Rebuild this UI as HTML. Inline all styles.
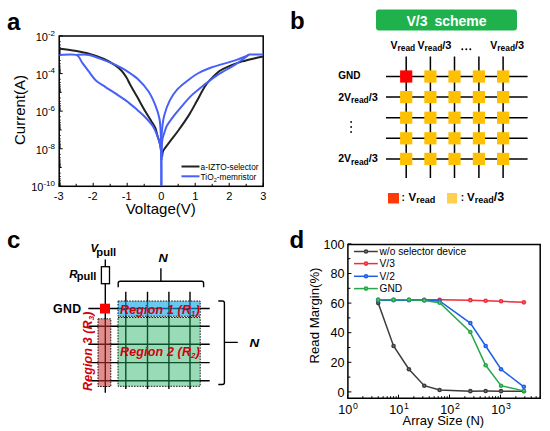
<!DOCTYPE html><html><head><meta charset="utf-8"><style>html,body{margin:0;padding:0;background:#fff;width:550px;height:431px;overflow:hidden}svg{display:block}text{font-family:"Liberation Sans",sans-serif}</style></head><body>
<svg width="550" height="431" viewBox="0 0 550 431">
<text x="7" y="29.6" font-size="24" font-weight="bold">a</text>
<path d="M59.2,186.3 h3.5 M59.2,167.51 h2.5 M59.2,173.17 h1.5 M59.2,176.48 h1.5 M59.2,178.82 h1.5 M59.2,180.64 h1.5 M59.2,182.13 h1.5 M59.2,183.39 h1.5 M59.2,184.48 h1.5 M59.2,185.44 h1.5 M59.2,148.73 h3.5 M59.2,154.38 h1.5 M59.2,157.69 h1.5 M59.2,160.04 h1.5 M59.2,161.86 h1.5 M59.2,163.34 h1.5 M59.2,164.6 h1.5 M59.2,165.69 h1.5 M59.2,166.65 h1.5 M59.2,129.94 h2.5 M59.2,135.59 h1.5 M59.2,138.9 h1.5 M59.2,141.25 h1.5 M59.2,143.07 h1.5 M59.2,144.56 h1.5 M59.2,145.81 h1.5 M59.2,146.9 h1.5 M59.2,147.87 h1.5 M59.2,111.15 h3.5 M59.2,116.81 h1.5 M59.2,120.11 h1.5 M59.2,122.46 h1.5 M59.2,124.28 h1.5 M59.2,125.77 h1.5 M59.2,127.03 h1.5 M59.2,128.12 h1.5 M59.2,129.08 h1.5 M59.2,92.36 h2.5 M59.2,98.02 h1.5 M59.2,101.33 h1.5 M59.2,103.67 h1.5 M59.2,105.49 h1.5 M59.2,106.98 h1.5 M59.2,108.24 h1.5 M59.2,109.33 h1.5 M59.2,110.29 h1.5 M59.2,73.58 h3.5 M59.2,79.23 h1.5 M59.2,82.54 h1.5 M59.2,84.89 h1.5 M59.2,86.71 h1.5 M59.2,88.19 h1.5 M59.2,89.45 h1.5 M59.2,90.54 h1.5 M59.2,91.5 h1.5 M59.2,54.79 h2.5 M59.2,60.44 h1.5 M59.2,63.75 h1.5 M59.2,66.1 h1.5 M59.2,67.92 h1.5 M59.2,69.41 h1.5 M59.2,70.66 h1.5 M59.2,71.75 h1.5 M59.2,72.72 h1.5 M59.2,36 h3.5 M59.2,41.66 h1.5 M59.2,44.96 h1.5 M59.2,47.31 h1.5 M59.2,49.13 h1.5 M59.2,50.62 h1.5 M59.2,51.88 h1.5 M59.2,52.97 h1.5 M59.2,53.93 h1.5 M59.2,186.3 v-3.5 M76.2,186.3 v-2.5 M93.2,186.3 v-3.5 M110.2,186.3 v-2.5 M127.2,186.3 v-3.5 M144.2,186.3 v-2.5 M161.2,186.3 v-3.5 M178.2,186.3 v-2.5 M195.2,186.3 v-3.5 M212.2,186.3 v-2.5 M229.2,186.3 v-3.5 M246.2,186.3 v-2.5 M263.2,186.3 v-3.5" stroke="#000" stroke-width="1" fill="none"/>
<rect x="59.2" y="36" width="204" height="150.3" fill="none" stroke="#000" stroke-width="1.5"/>
<text x="55" y="41" font-size="11" text-anchor="end">10<tspan font-size="8" dy="-5.1">-2</tspan></text>
<text x="55" y="78.58" font-size="11" text-anchor="end">10<tspan font-size="8" dy="-5.1">-4</tspan></text>
<text x="55" y="116.15" font-size="11" text-anchor="end">10<tspan font-size="8" dy="-5.1">-6</tspan></text>
<text x="55" y="153.73" font-size="11" text-anchor="end">10<tspan font-size="8" dy="-5.1">-8</tspan></text>
<text x="55" y="191.3" font-size="11" text-anchor="end">10<tspan font-size="8" dy="-5.1">-10</tspan></text>
<text x="58.7" y="199.6" font-size="11" text-anchor="middle">-3</text>
<text x="92.7" y="199.6" font-size="11" text-anchor="middle">-2</text>
<text x="126.7" y="199.6" font-size="11" text-anchor="middle">-1</text>
<text x="161.2" y="199.6" font-size="11" text-anchor="middle">0</text>
<text x="195.2" y="199.6" font-size="11" text-anchor="middle">1</text>
<text x="229.2" y="199.6" font-size="11" text-anchor="middle">2</text>
<text x="263.2" y="199.6" font-size="11" text-anchor="middle">3</text>
<text x="160.7" y="214" font-size="15" text-anchor="middle">Voltage(V)</text>
<text transform="translate(24.9,110) rotate(-90)" x="0" y="0" font-size="15" text-anchor="middle">Current(A)</text>
<path d="M59.4,48.5 C62,48.88 70.08,49.93 75,50.8 C79.92,51.67 84.07,52.35 88.9,53.7 C93.73,55.05 99.6,56.95 104,58.9 C108.4,60.85 112.33,63.38 115.3,65.4 C118.27,67.42 119.93,68.98 121.8,71 C123.67,73.02 125.13,75.3 126.5,77.5 C127.87,79.7 128.2,80.93 130,84.2 C131.8,87.47 134.73,92.53 137.3,97.1 C139.87,101.67 143.08,107.63 145.4,111.6 C147.72,115.57 149.55,118.2 151.2,120.9 C152.85,123.6 154.3,125.48 155.3,127.8 C156.3,130.12 156.42,132.08 157.2,134.8 C157.98,137.52 159.32,141.23 160,144.1 C160.68,146.97 160.93,150.02 161.3,152 C161.67,153.98 162.05,155.33 162.2,156 L162.2,156 C162.32,155.27 162.4,152.97 162.9,151.6 C163.4,150.23 163.88,149.67 165.2,147.8 C166.52,145.93 168.55,143.37 170.8,140.4 C173.05,137.43 175.68,134.22 178.7,130 C181.72,125.78 185.97,119.75 188.9,115.1 C191.83,110.45 193.98,106.28 196.3,102.1 C198.62,97.92 201.02,93.1 202.8,90 C204.58,86.9 205.55,85.42 207,83.5 C208.45,81.58 209.35,80.62 211.5,78.5 C213.65,76.38 216.95,72.87 219.9,70.8 C222.85,68.73 225.47,67.67 229.2,66.1 C232.93,64.53 238,62.72 242.3,61.4 C246.6,60.08 251.52,59.02 255,58.2 C258.48,57.38 261.83,56.78 263.2,56.5" stroke="#222" stroke-width="2" fill="none" stroke-linejoin="round"/>
<path d="M59.4,55 C62.2,54.98 72.43,53.67 76.2,54.9 C79.97,56.13 79.88,59.6 82,62.4 C84.12,65.2 86.58,68.68 88.9,71.7 C91.22,74.72 93.18,77.98 95.9,80.5 C98.62,83.02 102.02,84.68 105.2,86.8 C108.38,88.92 111.52,90.9 115,93.2 C118.48,95.5 122.38,97.82 126.1,100.6 C129.82,103.38 134.27,107.3 137.3,109.9 C140.33,112.5 141.78,113.6 144.3,116.2 C146.82,118.8 150.28,122.4 152.4,125.5 C154.52,128.6 155.75,131.7 157,134.8 C158.25,137.9 159.22,141.23 159.9,144.1 C160.58,146.97 160.87,148.52 161.1,152 C161.33,155.48 161.27,159.33 161.3,165 C161.33,170.67 161.3,182.5 161.3,186" stroke="#4660f8" stroke-width="2" fill="none" stroke-linejoin="round"/>
<path d="M76.2,54.9 C78.32,54.9 84.27,54.03 88.9,54.9 C93.53,55.77 99.55,58.43 104,60.1 C108.45,61.77 112.02,63.22 115.6,64.9 C119.18,66.58 121.85,67.88 125.5,70.2 C129.15,72.52 133.68,75.28 137.5,78.8 C141.32,82.32 145.43,86.9 148.4,91.3 C151.37,95.7 153.45,100.58 155.3,105.2 C157.15,109.82 158.58,114.2 159.5,119 C160.42,123.8 160.5,128.83 160.8,134 C161.1,139.17 161.18,141.33 161.3,150 C161.42,158.67 161.47,180 161.5,186" stroke="#4660f8" stroke-width="2" fill="none" stroke-linejoin="round"/>
<path d="M161.4,160 C161.42,157.5 161.4,150 161.5,145 C161.6,140 161.53,134.95 162,130 C162.47,125.05 163,120.23 164.3,115.3 C165.6,110.37 167.63,104.73 169.8,100.4 C171.97,96.07 174.2,92.7 177.3,89.3 C180.4,85.9 185,82.63 188.4,80 C191.8,77.37 194.02,75.55 197.7,73.5 C201.38,71.45 206.25,69.3 210.5,67.7 C214.75,66.1 218.97,65.17 223.2,63.9 C227.43,62.63 232.1,61.37 235.9,60.1 C239.7,58.83 243.73,57.22 246,56.3 C248.27,55.38 246.63,54.88 249.5,54.6 C252.37,54.32 260.92,54.6 263.2,54.6" stroke="#4660f8" stroke-width="2" fill="none" stroke-linejoin="round"/>
<path d="M161.4,160 C161.42,158.42 161.33,153.93 161.5,150.5 C161.67,147.07 161.93,142.33 162.4,139.4 C162.87,136.47 163.53,135.22 164.3,132.9 C165.07,130.58 165.45,128.28 167,125.5 C168.55,122.72 170.97,119.6 173.6,116.2 C176.23,112.8 179.72,108.65 182.8,105.1 C185.88,101.55 188.7,98.15 192.1,94.9 C195.5,91.65 199.23,88.73 203.2,85.6 C207.17,82.47 211.97,78.78 215.9,76.1 C219.83,73.42 223.17,71.68 226.8,69.5 C230.43,67.32 234,65.45 237.7,63 C241.4,60.55 247.12,56.17 249,54.8" stroke="#4660f8" stroke-width="2" fill="none" stroke-linejoin="round"/>
<path d="M181.5,166.5 H199.5" stroke="#222" stroke-width="2"/>
<path d="M181.5,176.3 H199.5" stroke="#4660f8" stroke-width="2"/>
<text x="200.6" y="169.7" font-size="8.3">a-IZTO-selector</text>
<text x="200.6" y="179.5" font-size="8.3">TiO<tspan font-size="5.5" dy="2">2</tspan><tspan dy="-2">-memristor</tspan></text>
<text x="290" y="29.2" font-size="24" font-weight="bold">b</text>
<rect x="376" y="9.6" width="141" height="21" rx="3" fill="#1fb24c"/>
<text x="406.5" y="25.8" font-size="14" font-weight="bold" fill="#fff" word-spacing="3">V/3 scheme</text>
<path d="M406.2,56.5 V177.9 M430.4,56.5 V177.9 M454.5,56.5 V177.9 M478.9,56.5 V177.9 M503.1,56.5 V177.9 M386,76.5 H527.6 M386,97.1 H527.6 M386,117.7 H527.6 M386,138.3 H527.6 M386,158.9 H527.6" stroke="#000" stroke-width="1.5" fill="none"/>
<rect x="400.1" y="70.4" width="12.2" height="12.2" fill="#ff0000"/>
<rect x="424.3" y="70.4" width="12.2" height="12.2" fill="#ffc000"/>
<rect x="448.4" y="70.4" width="12.2" height="12.2" fill="#ffc000"/>
<rect x="472.8" y="70.4" width="12.2" height="12.2" fill="#ffc000"/>
<rect x="497" y="70.4" width="12.2" height="12.2" fill="#ffc000"/>
<rect x="400.1" y="91" width="12.2" height="12.2" fill="#ffc000"/>
<rect x="424.3" y="91" width="12.2" height="12.2" fill="#ffc000"/>
<rect x="448.4" y="91" width="12.2" height="12.2" fill="#ffc000"/>
<rect x="472.8" y="91" width="12.2" height="12.2" fill="#ffc000"/>
<rect x="497" y="91" width="12.2" height="12.2" fill="#ffc000"/>
<rect x="400.1" y="111.6" width="12.2" height="12.2" fill="#ffc000"/>
<rect x="424.3" y="111.6" width="12.2" height="12.2" fill="#ffc000"/>
<rect x="448.4" y="111.6" width="12.2" height="12.2" fill="#ffc000"/>
<rect x="472.8" y="111.6" width="12.2" height="12.2" fill="#ffc000"/>
<rect x="497" y="111.6" width="12.2" height="12.2" fill="#ffc000"/>
<rect x="400.1" y="132.2" width="12.2" height="12.2" fill="#ffc000"/>
<rect x="424.3" y="132.2" width="12.2" height="12.2" fill="#ffc000"/>
<rect x="448.4" y="132.2" width="12.2" height="12.2" fill="#ffc000"/>
<rect x="472.8" y="132.2" width="12.2" height="12.2" fill="#ffc000"/>
<rect x="497" y="132.2" width="12.2" height="12.2" fill="#ffc000"/>
<rect x="400.1" y="152.8" width="12.2" height="12.2" fill="#ffc000"/>
<rect x="424.3" y="152.8" width="12.2" height="12.2" fill="#ffc000"/>
<rect x="448.4" y="152.8" width="12.2" height="12.2" fill="#ffc000"/>
<rect x="472.8" y="152.8" width="12.2" height="12.2" fill="#ffc000"/>
<rect x="497" y="152.8" width="12.2" height="12.2" fill="#ffc000"/>
<text x="390.5" y="48.5" font-size="10.5" font-weight="bold">V<tspan font-size="8.4" dy="2.2">read</tspan><tspan dy="-2.2" font-size="11"></tspan></text>
<text x="417.6" y="48.5" font-size="10.5" font-weight="bold">V<tspan font-size="8.4" dy="2.2">read</tspan><tspan dy="-2.2" font-size="11">/3</tspan></text>
<circle cx="462.3" cy="49.3" r="1" fill="#000"/>
<circle cx="466.3" cy="49.3" r="1" fill="#000"/>
<circle cx="470.3" cy="49.3" r="1" fill="#000"/>
<text x="490.3" y="48.5" font-size="10.5" font-weight="bold">V<tspan font-size="8.4" dy="2.2">read</tspan><tspan dy="-2.2" font-size="11">/3</tspan></text>
<text x="338.3" y="78.7" font-size="10" font-weight="bold">GND</text>
<text x="338.2" y="100.6" font-size="10.5" font-weight="bold">2V<tspan font-size="8.4" dy="2.6">read</tspan><tspan dy="-2.6" font-size="11">/3</tspan></text>
<text x="338.2" y="162.3" font-size="10.5" font-weight="bold">2V<tspan font-size="8.4" dy="2.6">read</tspan><tspan dy="-2.6" font-size="11">/3</tspan></text>
<circle cx="351.1" cy="122" r="0.9" fill="#000"/>
<circle cx="351.1" cy="127" r="0.9" fill="#000"/>
<circle cx="351.1" cy="132" r="0.9" fill="#000"/>
<rect x="388" y="193" width="11" height="10.5" fill="#ff3a0a"/>
<text x="401.5" y="201" font-size="10" font-weight="bold">:</text>
<text x="408.6" y="200.9" font-size="11.5" font-weight="bold">V<tspan font-size="9" dy="2.2">read</tspan><tspan dy="-2.2" font-size="11"></tspan></text>
<rect x="447" y="193" width="10.2" height="10.5" fill="#ffd050"/>
<text x="460.8" y="201" font-size="10" font-weight="bold">:</text>
<text x="467" y="200.9" font-size="11.5" font-weight="bold">V<tspan font-size="9" dy="2.2">read</tspan><tspan dy="-2.2" font-size="12.5">/3</tspan></text>
<text x="7" y="247.9" font-size="24" font-weight="bold">c</text>
<path d="M88.3,308.5 H209.7 M88.3,326.3 H209.7 M88.3,344.3 H209.7 M88.3,362.6 H209.7 M88.3,380.7 H209.7 M125.8,291.7 V389 M147.5,291.7 V389 M168.9,291.7 V389 M190,291.7 V389 M105.3,259.4 V392.7" stroke="#000" stroke-width="1.4" fill="none"/>
<rect x="101.4" y="266.7" width="8.1" height="17" fill="#fff" stroke="#000" stroke-width="1.3"/>
<rect x="118" y="317.5" width="82.2" height="68.8" fill="#1faf5f" fill-opacity="0.45" stroke="#000" stroke-width="0.9" stroke-dasharray="1.6,1.2"/>
<rect x="118" y="301" width="82.2" height="15.3" fill="#00a5e8" fill-opacity="0.6" stroke="#000" stroke-width="0.9" stroke-dasharray="1.6,1.2"/>
<rect x="98" y="318.8" width="12.8" height="67.7" fill="#c83232" fill-opacity="0.55" stroke="#000" stroke-width="0.9" stroke-dasharray="1.6,1.2"/>
<rect x="100" y="303.7" width="10" height="9.8" fill="#ff0000"/>
<text x="120" y="314" font-size="12.5" letter-spacing="0.15" font-weight="bold" font-style="italic" fill="#d2000a">Region 1 (R<tspan font-size="8" dy="2">1</tspan><tspan dy="-2">)</tspan></text>
<text x="120" y="355.6" font-size="12.5" letter-spacing="0.15" font-weight="bold" font-style="italic" fill="#d2000a">Region 2 (R<tspan font-size="8" dy="2">2</tspan><tspan dy="-2">)</tspan></text>
<text transform="translate(91.8,351.2) rotate(-90)" x="0" y="0" font-size="12.5" letter-spacing="0.1" font-weight="bold" font-style="italic" fill="#d2000a" text-anchor="middle">Region 3 (R<tspan font-size="8" dy="2">3</tspan><tspan dy="-2">)</tspan></text>
<text x="53.1" y="312.8" font-size="12.3" letter-spacing="0.35" font-weight="bold">GND</text>
<text x="90.4" y="252" font-size="11.5" font-weight="bold" font-style="italic">V</text><text x="96.3" y="255.8" font-size="11.2" font-weight="bold">pull</text>
<text x="69.2" y="277.6" font-size="11.5" font-weight="bold" font-style="italic">R</text><text x="76.8" y="280.2" font-size="11" font-weight="bold">pull</text>
<path d="M118.2,287.3 V283.3 Q118.2,281.3 120.2,281.3 H201.6 Q203.6,281.3 203.6,283.3 V287.3 M160.9,281.3 V268.2" stroke="#000" stroke-width="1.4" fill="none"/>
<path d="M218.3,301 H222.4 Q224.4,301 224.4,303 V382.5 Q224.4,384.5 222.4,384.5 H218.3 M224.4,342.4 H237.8" stroke="#000" stroke-width="1.4" fill="none"/>
<text transform="translate(158.6,261.8) scale(1.22,1)" font-size="10.5" font-weight="bold" font-style="italic">N</text>
<text transform="translate(249.4,347.4) scale(1.22,1)" font-size="11" font-weight="bold" font-style="italic">N</text>
<text x="289.4" y="247.8" font-size="24" font-weight="bold">d</text>
<path d="M347.9,391.9 h3.5 M347.9,377.1 h2.5 M347.9,362.3 h3.5 M347.9,347.5 h2.5 M347.9,332.7 h3.5 M347.9,317.9 h2.5 M347.9,303.1 h3.5 M347.9,288.3 h2.5 M347.9,273.5 h3.5 M347.9,258.7 h2.5 M347.9,243.9 h3.5 M347.5,398.2 v-3.5 M362.85,398.2 v-2 M371.83,398.2 v-2 M378.21,398.2 v-2 M383.15,398.2 v-2 M387.19,398.2 v-2 M390.6,398.2 v-2 M393.56,398.2 v-2 M396.17,398.2 v-2 M398.5,398.2 v-3.5 M413.85,398.2 v-2 M422.83,398.2 v-2 M429.21,398.2 v-2 M434.15,398.2 v-2 M438.19,398.2 v-2 M441.6,398.2 v-2 M444.56,398.2 v-2 M447.17,398.2 v-2 M449.5,398.2 v-3.5 M464.85,398.2 v-2 M473.83,398.2 v-2 M480.21,398.2 v-2 M485.15,398.2 v-2 M489.19,398.2 v-2 M492.6,398.2 v-2 M495.56,398.2 v-2 M498.17,398.2 v-2 M500.5,398.2 v-3.5 M515.85,398.2 v-2 M524.83,398.2 v-2 M531.21,398.2 v-2 M536.15,398.2 v-2 M540.19,398.2 v-2" stroke="#000" stroke-width="1" fill="none"/>
<path d="M347.9,244.5 V398.2 H540.2 V244.5 H347.9 Z" fill="none" stroke="#000" stroke-width="1.5"/>
<text x="344.6" y="396.5" font-size="12.6" text-anchor="end">0</text>
<text x="344.6" y="366.9" font-size="12.6" text-anchor="end">20</text>
<text x="344.6" y="337.3" font-size="12.6" text-anchor="end">40</text>
<text x="344.6" y="307.7" font-size="12.6" text-anchor="end">60</text>
<text x="344.6" y="278.1" font-size="12.6" text-anchor="end">80</text>
<text x="344.6" y="248.5" font-size="12.6" text-anchor="end">100</text>
<text x="352.3" y="413.8" font-size="12.6" text-anchor="end">10</text><text x="352.9" y="409" font-size="8.8">0</text>
<text x="403.3" y="413.8" font-size="12.6" text-anchor="end">10</text><text x="403.9" y="409" font-size="8.8">1</text>
<text x="454.3" y="413.8" font-size="12.6" text-anchor="end">10</text><text x="454.9" y="409" font-size="8.8">2</text>
<text x="505.3" y="413.8" font-size="12.6" text-anchor="end">10</text><text x="505.9" y="409" font-size="8.8">3</text>
<text x="402.5" y="425.4" font-size="13">Array Size (N)</text>
<text transform="translate(318.9,315.5) rotate(-90)" x="0" y="0" font-size="13.2" text-anchor="middle">Read Margin(%)</text>
<path d="M378.21,303.1 L393.56,346.02 L408.91,369.26 L424.26,385.68 L439.62,389.98 L470.32,391.16 L485.67,391.01 L501.03,391.16 L523.85,391.31" stroke="#3c3c3c" stroke-width="1.5" fill="none"/>
<circle cx="378.21" cy="303.1" r="2.3" fill="#3c3c3c"/><circle cx="378.21" cy="303.1" r="0.75" fill="#fff" fill-opacity="0.4"/>
<circle cx="393.56" cy="346.02" r="2.3" fill="#3c3c3c"/><circle cx="393.56" cy="346.02" r="0.75" fill="#fff" fill-opacity="0.4"/>
<circle cx="408.91" cy="369.26" r="2.3" fill="#3c3c3c"/><circle cx="408.91" cy="369.26" r="0.75" fill="#fff" fill-opacity="0.4"/>
<circle cx="424.26" cy="385.68" r="2.3" fill="#3c3c3c"/><circle cx="424.26" cy="385.68" r="0.75" fill="#fff" fill-opacity="0.4"/>
<circle cx="439.62" cy="389.98" r="2.3" fill="#3c3c3c"/><circle cx="439.62" cy="389.98" r="0.75" fill="#fff" fill-opacity="0.4"/>
<circle cx="470.32" cy="391.16" r="2.3" fill="#3c3c3c"/><circle cx="470.32" cy="391.16" r="0.75" fill="#fff" fill-opacity="0.4"/>
<circle cx="485.67" cy="391.01" r="2.3" fill="#3c3c3c"/><circle cx="485.67" cy="391.01" r="0.75" fill="#fff" fill-opacity="0.4"/>
<circle cx="501.03" cy="391.16" r="2.3" fill="#3c3c3c"/><circle cx="501.03" cy="391.16" r="0.75" fill="#fff" fill-opacity="0.4"/>
<circle cx="523.85" cy="391.31" r="2.3" fill="#3c3c3c"/><circle cx="523.85" cy="391.31" r="0.75" fill="#fff" fill-opacity="0.4"/>
<path d="M378.21,299.7 L393.56,299.7 L408.91,299.7 L424.26,299.7 L439.62,299.84 L470.32,300.14 L485.67,300.73 L501.03,301.32 L523.85,302.36" stroke="#ee2e3a" stroke-width="1.5" fill="none"/>
<circle cx="378.21" cy="299.7" r="2.3" fill="#ee2e3a"/><circle cx="378.21" cy="299.7" r="0.75" fill="#fff" fill-opacity="0.4"/>
<circle cx="393.56" cy="299.7" r="2.3" fill="#ee2e3a"/><circle cx="393.56" cy="299.7" r="0.75" fill="#fff" fill-opacity="0.4"/>
<circle cx="408.91" cy="299.7" r="2.3" fill="#ee2e3a"/><circle cx="408.91" cy="299.7" r="0.75" fill="#fff" fill-opacity="0.4"/>
<circle cx="424.26" cy="299.7" r="2.3" fill="#ee2e3a"/><circle cx="424.26" cy="299.7" r="0.75" fill="#fff" fill-opacity="0.4"/>
<circle cx="439.62" cy="299.84" r="2.3" fill="#ee2e3a"/><circle cx="439.62" cy="299.84" r="0.75" fill="#fff" fill-opacity="0.4"/>
<circle cx="470.32" cy="300.14" r="2.3" fill="#ee2e3a"/><circle cx="470.32" cy="300.14" r="0.75" fill="#fff" fill-opacity="0.4"/>
<circle cx="485.67" cy="300.73" r="2.3" fill="#ee2e3a"/><circle cx="485.67" cy="300.73" r="0.75" fill="#fff" fill-opacity="0.4"/>
<circle cx="501.03" cy="301.32" r="2.3" fill="#ee2e3a"/><circle cx="501.03" cy="301.32" r="0.75" fill="#fff" fill-opacity="0.4"/>
<circle cx="523.85" cy="302.36" r="2.3" fill="#ee2e3a"/><circle cx="523.85" cy="302.36" r="0.75" fill="#fff" fill-opacity="0.4"/>
<path d="M378.21,300.14 L393.56,300.14 L408.91,300.14 L424.26,300.14 L439.62,300.88 L470.32,323.08 L485.67,346.02 L501.03,369.26 L523.85,386.87" stroke="#1b5fe8" stroke-width="1.5" fill="none"/>
<circle cx="378.21" cy="300.14" r="2.3" fill="#1b5fe8"/><circle cx="378.21" cy="300.14" r="0.75" fill="#fff" fill-opacity="0.4"/>
<circle cx="393.56" cy="300.14" r="2.3" fill="#1b5fe8"/><circle cx="393.56" cy="300.14" r="0.75" fill="#fff" fill-opacity="0.4"/>
<circle cx="408.91" cy="300.14" r="2.3" fill="#1b5fe8"/><circle cx="408.91" cy="300.14" r="0.75" fill="#fff" fill-opacity="0.4"/>
<circle cx="424.26" cy="300.14" r="2.3" fill="#1b5fe8"/><circle cx="424.26" cy="300.14" r="0.75" fill="#fff" fill-opacity="0.4"/>
<circle cx="439.62" cy="300.88" r="2.3" fill="#1b5fe8"/><circle cx="439.62" cy="300.88" r="0.75" fill="#fff" fill-opacity="0.4"/>
<circle cx="470.32" cy="323.08" r="2.3" fill="#1b5fe8"/><circle cx="470.32" cy="323.08" r="0.75" fill="#fff" fill-opacity="0.4"/>
<circle cx="485.67" cy="346.02" r="2.3" fill="#1b5fe8"/><circle cx="485.67" cy="346.02" r="0.75" fill="#fff" fill-opacity="0.4"/>
<circle cx="501.03" cy="369.26" r="2.3" fill="#1b5fe8"/><circle cx="501.03" cy="369.26" r="0.75" fill="#fff" fill-opacity="0.4"/>
<circle cx="523.85" cy="386.87" r="2.3" fill="#1b5fe8"/><circle cx="523.85" cy="386.87" r="0.75" fill="#fff" fill-opacity="0.4"/>
<path d="M378.21,299.7 L393.56,299.7 L408.91,299.7 L424.26,300.44 L439.62,302.8 L470.32,331.96 L485.67,365.26 L501.03,385.68 L523.85,390.86" stroke="#25a84a" stroke-width="1.5" fill="none"/>
<circle cx="378.21" cy="299.7" r="2.3" fill="#25a84a"/><circle cx="378.21" cy="299.7" r="0.75" fill="#fff" fill-opacity="0.4"/>
<circle cx="393.56" cy="299.7" r="2.3" fill="#25a84a"/><circle cx="393.56" cy="299.7" r="0.75" fill="#fff" fill-opacity="0.4"/>
<circle cx="408.91" cy="299.7" r="2.3" fill="#25a84a"/><circle cx="408.91" cy="299.7" r="0.75" fill="#fff" fill-opacity="0.4"/>
<circle cx="424.26" cy="300.44" r="2.3" fill="#25a84a"/><circle cx="424.26" cy="300.44" r="0.75" fill="#fff" fill-opacity="0.4"/>
<circle cx="439.62" cy="302.8" r="2.3" fill="#25a84a"/><circle cx="439.62" cy="302.8" r="0.75" fill="#fff" fill-opacity="0.4"/>
<circle cx="470.32" cy="331.96" r="2.3" fill="#25a84a"/><circle cx="470.32" cy="331.96" r="0.75" fill="#fff" fill-opacity="0.4"/>
<circle cx="485.67" cy="365.26" r="2.3" fill="#25a84a"/><circle cx="485.67" cy="365.26" r="0.75" fill="#fff" fill-opacity="0.4"/>
<circle cx="501.03" cy="385.68" r="2.3" fill="#25a84a"/><circle cx="501.03" cy="385.68" r="0.75" fill="#fff" fill-opacity="0.4"/>
<circle cx="523.85" cy="390.86" r="2.3" fill="#25a84a"/><circle cx="523.85" cy="390.86" r="0.75" fill="#fff" fill-opacity="0.4"/>
<path d="M354,251.5 H377.8" stroke="#3c3c3c" stroke-width="1.5"/>
<circle cx="366" cy="251.5" r="2.3" fill="#3c3c3c"/><circle cx="366" cy="251.5" r="0.75" fill="#fff" fill-opacity="0.4"/>
<text x="379.5" y="255" font-size="10.2">w/o selector device</text>
<path d="M354,263.6 H377.8" stroke="#ee2e3a" stroke-width="1.5"/>
<circle cx="366" cy="263.6" r="2.3" fill="#ee2e3a"/><circle cx="366" cy="263.6" r="0.75" fill="#fff" fill-opacity="0.4"/>
<text x="379.5" y="267.1" font-size="10.2">V/3</text>
<path d="M354,276.3 H377.8" stroke="#1b5fe8" stroke-width="1.5"/>
<circle cx="366" cy="276.3" r="2.3" fill="#1b5fe8"/><circle cx="366" cy="276.3" r="0.75" fill="#fff" fill-opacity="0.4"/>
<text x="379.5" y="279.8" font-size="10.2">V/2</text>
<path d="M354,288.6 H377.8" stroke="#25a84a" stroke-width="1.5"/>
<circle cx="366" cy="288.6" r="2.3" fill="#25a84a"/><circle cx="366" cy="288.6" r="0.75" fill="#fff" fill-opacity="0.4"/>
<text x="379.5" y="292.1" font-size="10.2">GND</text>
</svg></body></html>
